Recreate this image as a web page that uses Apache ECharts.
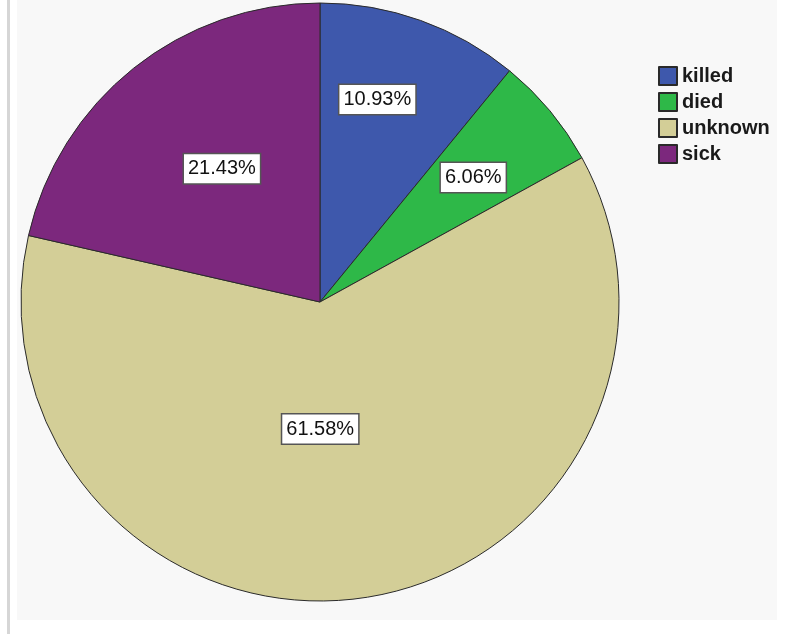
<!DOCTYPE html>
<html>
<head>
<meta charset="utf-8">
<script src="https://cdn.jsdelivr.net/npm/echarts@6/dist/echarts.min.js"></script>
<style>
  html, body { margin: 0; padding: 0; background: #ffffff; }
  #wrap { position: relative; width: 785px; height: 634px; overflow: hidden; }
  #bg { position: absolute; left: 17px; top: 0; width: 760px; height: 620px; background: #f8f8f8; }
  #line { position: absolute; left: 7px; top: 0; width: 3px; height: 634px; background: #d6d6d6; }
  #chart { position: absolute; left: 0; top: 0; width: 785px; height: 634px; }
</style>
</head>
<body>
<div id="wrap">
  <div id="bg"></div>
  <div id="line"></div>
  <div id="chart"></div>
</div>
<script>
// Data
const categories = ['killed', 'died', 'unknown', 'sick'];
const percentages = [10.93, 6.06, 61.58, 21.43];

// Styles
const sliceColors = ['#3E58AC', '#2EB848', '#D3CE97', '#7C287D'];
const labelShift = [[6, -59], [36, -27], [-21, -24], [-3, -14]];

const chart = echarts.init(document.getElementById('chart'), null, { renderer: 'canvas' });

const seriesData = categories.map((name, i) => ({
  name: name,
  value: percentages[i],
  itemStyle: { color: sliceColors[i] }
}));

chart.setOption({
  backgroundColor: 'transparent',
  animation: false,
  legend: {
    orient: 'vertical',
    left: 653,
    top: 61,
    icon: 'rect',
    itemWidth: 18,
    itemHeight: 18,
    itemGap: 6,
    data: categories,
    textStyle: {
      fontFamily: 'Liberation Sans, Arial, sans-serif',
      fontSize: 20,
      fontWeight: 'bold',
      color: '#1a1a1a'
    }
  },
  series: [{
    type: 'pie',
    center: [320, 302],
    radius: [0, 299],
    startAngle: 90,
    clockwise: true,
    avoidLabelOverlap: false,
    itemStyle: { borderColor: '#2a2a2a', borderWidth: 1 },
    label: {
      show: true,
      position: 'inside',
      formatter: p => p.value.toFixed(2) + '%',
      fontFamily: 'Liberation Sans, Arial, sans-serif',
      fontSize: 20,
      color: '#111111',
      backgroundColor: '#ffffff',
      borderColor: '#555555',
      borderWidth: 1.5,
      padding: [5, 4, 4, 4]
    },
    labelLayout: function (params) {
      const s = labelShift[params.dataIndex];
      return { dx: s[0], dy: s[1] };
    },
    labelLine: { show: false },
    emphasis: { disabled: true },
    data: seriesData
  }]
});
</script>
</body>
</html>
